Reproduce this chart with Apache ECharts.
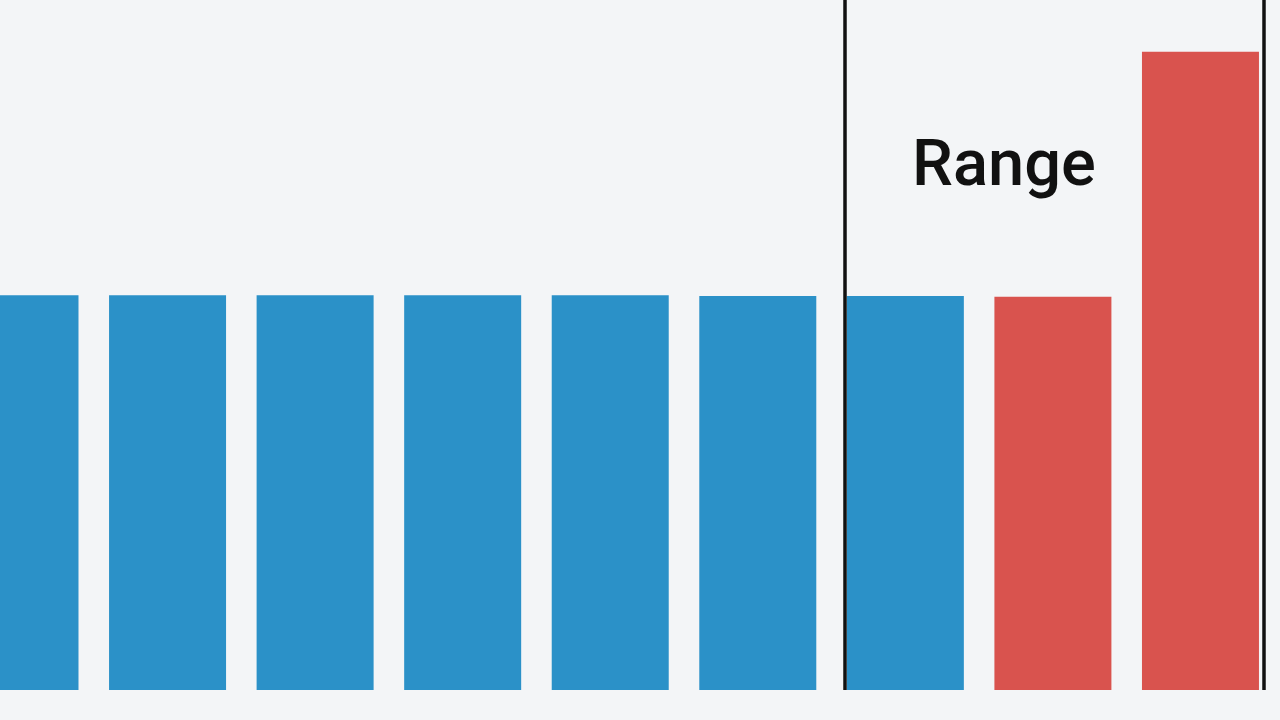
<!DOCTYPE html>
<html>
<head>
<meta charset="utf-8">
<script src="https://cdn.jsdelivr.net/npm/echarts@6/dist/echarts.min.js"></script>
<style>
html,body{margin:0;padding:0;background:#f3f5f7;}
#chart{width:1280px;height:720px;}
</style>
</head>
<body>
<div id="chart"></div>
<script>
// Data
const positions = [1, 2, 3, 4, 5, 6, 7, 8, 9];
const blueValues = [5.72, 5.72, 5.72, 5.72, 5.72, 5.71, 5.71, null, null];
const redValues = [null, null, null, null, null, null, null, 5.70, 9.25];
const rangeBounds = [6.591, 9.430];
const rangeLabel = 'Range';
const xMin = 0.8645;
const xMax = 9.539;

const toPairs = vals => positions.map((x, i) => [x, vals[i]]);

const chart = echarts.init(document.getElementById('chart'));
chart.setOption({
  backgroundColor: '#f3f5f7',
  animation: false,
  title: {
    text: rangeLabel,
    left: 907,
    top: 131,
    textStyle: { fontFamily: 'Roboto', fontSize: 65, fontWeight: 500, color: '#111111' }
  },
  grid: { left: 0, right: 0, top: 0, bottom: 30 },
  xAxis: { type: 'value', min: xMin, max: xMax, show: false },
  yAxis: { type: 'value', min: 0, max: 10, show: false },
  series: [
    {
      type: 'bar',
      data: toPairs(blueValues),
      barWidth: 117,
      barGap: '-100%',
      itemStyle: { color: '#2b91c8' },
      markLine: {
        silent: true,
        symbol: 'none',
        label: { show: false },
        lineStyle: { color: '#111111', width: 3.5, type: 'solid' },
        data: rangeBounds.map(v => ({ xAxis: v }))
      }
    },
    {
      type: 'bar',
      data: toPairs(redValues),
      barWidth: 117,
      barGap: '-100%',
      itemStyle: { color: '#d9534e' }
    }
  ]
});
</script>
</body>
</html>
